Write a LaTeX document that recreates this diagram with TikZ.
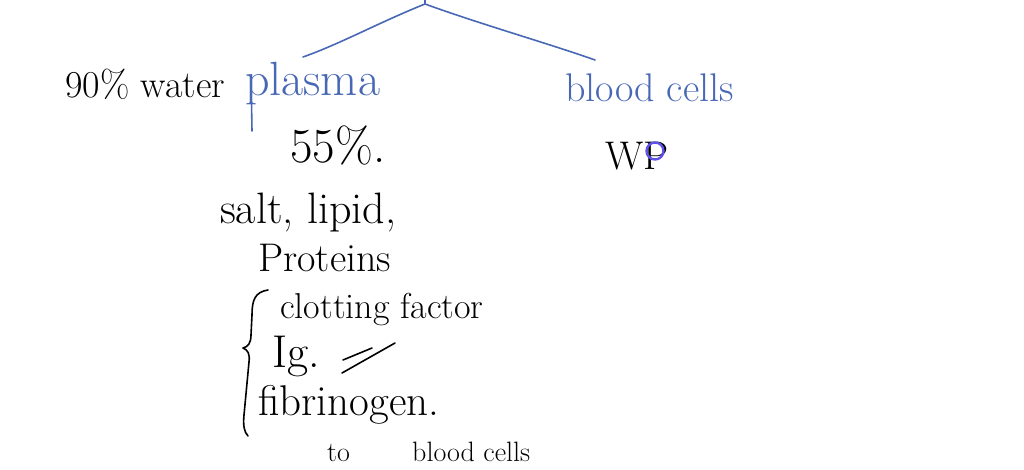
\documentclass[tikz,border=0pt]{standalone}
\usepackage{tikz}
\usetikzlibrary{math,calc}

\definecolor{inkblue}{RGB}{72,104,182}
\definecolor{ringblue}{RGB}{96,82,232}

\tikzset{
  ink/.style={anchor=base west,inner sep=0pt,text=black},
  blueink/.style={ink,text=inkblue},
  pen/.style={line width=1.6pt,line cap=round,line join=round}
}
\newcommand{\fs}[1]{\fontsize{#1}{#1}\selectfont}

\begin{document}
\begin{tikzpicture}[x=1pt,y=-1pt]
    \useasboundingbox (0,0) rectangle (1024,470);
    \clip (0,0) rectangle (1024,470);
    \tikzmath{\ry=4;\lx=303;\rx=595;}
    % The tree
    \coordinate (root) at (425,\ry);
    \coordinate (lend) at (\lx,57);
    \coordinate (rend) at (\rx,60);
    \draw[pen,inkblue] (425,0) -- (root);
    \draw[pen,inkblue] (root) .. controls (380,22) and (340,44) .. (lend);
    \draw[pen,inkblue] (root) .. controls (480,24) and (550,44) .. (rend);

    % The two branches
    \node[blueink] (plasma) at (245,96) {\fs{48}plasma};
    \node[blueink] (cells) at (565,102) {\fs{40}blood cells};
    \draw[pen,inkblue] ($(plasma.base west)+(6.5,6)$) -- ++(0.5,29);
    \node[ink] (water) at (65,98) {\fs{38}90\% water};

    % The plasma side
    \node[ink] (pct) at (290,163) {\fs{49}55\%.};
    \node[ink] (salt) at (220,224) {\fs{44}salt, lipid,};
    \node[ink] (prot) at (258,271) {\fs{40}Proteins};
    \node[ink] (clot) at (280,318) {\fs{36}clotting factor};
    \node[ink] (ig) at (272,367) {\fs{46}Ig.};
    \node[ink] (fib) at (258,415) {\fs{43}fibrinogen.};
    \draw[pen] (343,360) -- (372,348);
    \draw[pen] (342,373) -- (395,343);
    % The brace
    \draw[pen] (268,290) .. controls (255,292) and (252,300) .. (252,315)
      -- (251,335) .. controls (251,343) and (248,347) .. (243,348)
      .. controls (248,350) and (250,354) .. (249,362)
      -- (244,415) .. controls (243,425) and (244,432) .. (248,436);

    % The cell side
    \node[ink] (wp) at (605,170) {\fs{40}WP};
    \draw[ringblue,line width=2.4pt] (655,151) circle (8.5);

    % The next line
    \node[ink] (to) at (327,461) {\fs{28}to};
    \node[ink] (bcells) at (412,461) {\fs{28}blood cells};
\end{tikzpicture}
\end{document}
